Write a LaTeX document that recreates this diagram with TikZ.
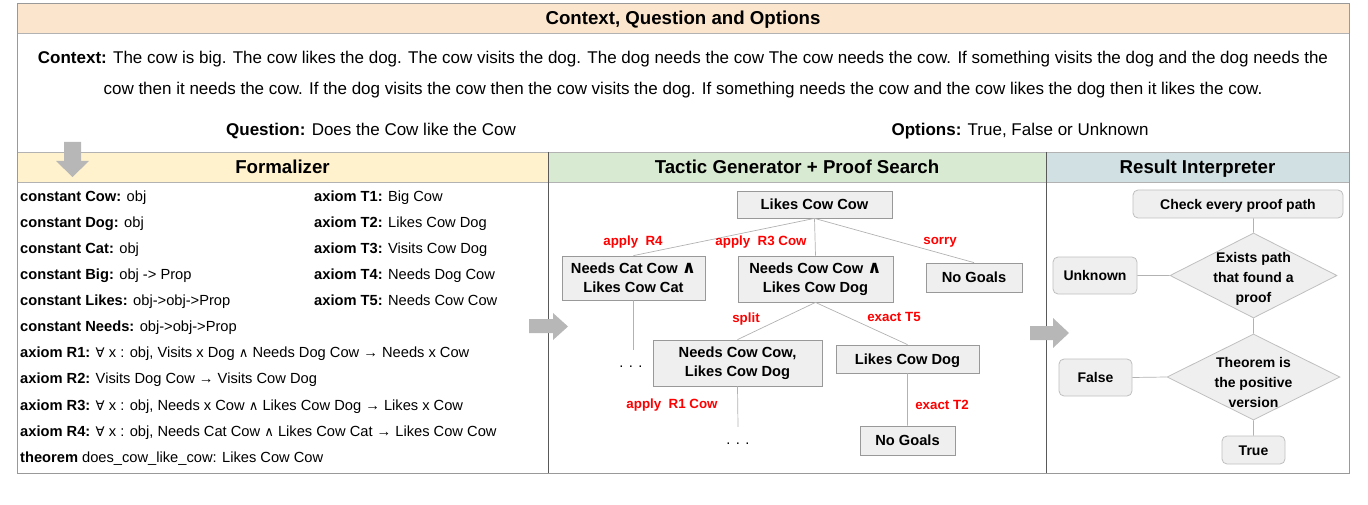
\documentclass[tikz,border=0pt]{standalone}
\usepackage{fontspec}
\setmainfont{Liberation Sans}
\newfontfamily\symfont[Scale=0.9]{DejaVu Sans}
\newfontfamily\bigsym[Scale=1.2]{DejaVu Sans}
\usetikzlibrary{shapes.geometric,positioning}

\definecolor{peach}{HTML}{FCE5CD}
\definecolor{formyellow}{HTML}{FFF2CC}
\definecolor{tacgreen}{HTML}{D9EAD3}
\definecolor{resblue}{HTML}{D0E0E3}
\definecolor{boxgray}{HTML}{EFEFEF}
\definecolor{arrowgray}{HTML}{B7B7B7}

\newcommand{\allx}{{\symfont ∀}}
\newcommand{\andx}{{\symfont ∧}}
\newcommand{\andbox}{{\bigsym ∧}}

\begin{document}
\begin{tikzpicture}[x=1pt,y=-1pt,
  hdr/.style={font=\fontsize{18.67}{22}\selectfont\bfseries, draw=black!30, line width=0.8pt, minimum height=30, inner sep=0, text height=13.4, text depth=0},
  body/.style={font=\fontsize{14.67}{18}\selectfont, inner sep=0, text height=10.5, text depth=0},
  ctxline/.style={font=\fontsize{17}{20}\selectfont, inner sep=0, text height=12.2, text depth=0},
  formline/.style={body, anchor=west},
  goal/.style={draw=black!40, fill=boxgray, line width=0.8pt, align=center, inner sep=0, font=\fontsize{14.67}{19.5}\selectfont\bfseries},
  oneline/.style={text height=10.5, text depth=0},
  tactic/.style={text=red, inner sep=0, font=\fontsize{13.33}{16}\selectfont\bfseries},
  link/.style={draw=black!30, line width=0.7pt},
  outcome/.style={goal, oneline, rounded corners=5, draw=black!25, font=\fontsize{14}{19}\selectfont\bfseries},
  decide/.style={diamond, draw=black!25, fill=boxgray, line width=0.8pt, inner sep=0},
  dectext/.style={align=center, inner sep=0, font=\fontsize{14}{20}\selectfont\bfseries}]
\tikzstyle{frame}=[draw=black!40, line width=0.9pt]
\tikzstyle{divider}=[draw=black!65, line width=0.9pt]
\tikzstyle{flowarrow}=[fill=arrowgray]
\tikzstyle{dots}=[inner sep=0, minimum height=34, font=\fontsize{14.67}{16}\selectfont]
\useasboundingbox (0,0) rectangle (1368,505);

% context, question and options
\node[hdr, fill=peach, minimum width=1332] (ctxhead) at (683,18) {Context, Question and Options};
\node[ctxline] (ctxA) at (683,57) {\textbf{Context:} The cow is big. The cow likes the dog. The cow visits the dog. The dog needs the cow The cow needs the cow. If something visits the dog and the dog needs the};
\node[ctxline] (ctxB) at (683,88) {cow then it needs the cow. If the dog visits the cow then the cow visits the dog. If something needs the cow and the cow likes the dog then it likes the cow.};
\node[ctxline] (question) at (371,129) {\textbf{Question:} Does the Cow like the Cow};
\node[ctxline] (options) at (1020,129) {\textbf{Options:} True, False or Unknown};

% panel headers
\node[hdr, fill=formyellow, minimum width=531] (formhead) at (282.5,167) {Formalizer};
\node[hdr, fill=tacgreen, minimum width=498] (tachead) at (797,167) {Tactic Generator + Proof Search};
\node[hdr, fill=resblue, minimum width=303] (reshead) at (1197.5,167) {Result Interpreter};
\draw[divider] (548,152) -- (548,473) (1046,152) -- (1046,473);
\draw[frame] (17,3) rectangle (1349,473);

% big arrows
\fill[flowarrow] (64,142) -- (81,142) -- (81,161) -- (89,161) -- (72.5,177) -- (56,161) -- (64,161) -- cycle;
\fill[flowarrow] (529,319) -- (553,319) -- (553,313) -- (568,326.5) -- (553,340) -- (553,333) -- (529,333) -- cycle;
\fill[flowarrow] (1030,326) -- (1053,326) -- (1053,318) -- (1069,333) -- (1053,348) -- (1053,340) -- (1030,340) -- cycle;

% formalizer
\foreach \txt [count=\i from 0] in {
  {\textbf{constant Cow:} obj},
  {\textbf{constant Dog:} obj},
  {\textbf{constant Cat:} obj},
  {\textbf{constant Big:} obj -> Prop},
  {\textbf{constant Likes:} obj->obj->Prop},
  {\textbf{constant Needs:} obj->obj->Prop},
  {\textbf{axiom R1:} \allx{} x : obj, Visits x Dog \andx{} Needs Dog Cow → Needs x Cow},
  {\textbf{axiom R2:} Visits Dog Cow → Visits Cow Dog},
  {\textbf{axiom R3:} \allx{} x : obj, Needs x Cow \andx{} Likes Cow Dog → Likes x Cow},
  {\textbf{axiom R4:} \allx{} x : obj, Needs Cat Cow \andx{} Likes Cow Cat → Likes Cow Cow},
  {\textbf{theorem} does\_cow\_like\_cow: Likes Cow Cow}}
  \node[formline] (c\i) at (20,{196+26.1*\i}) {\txt};
\foreach \txt [count=\i from 0] in {
  {\textbf{axiom T1:} Big Cow},
  {\textbf{axiom T2:} Likes Cow Dog},
  {\textbf{axiom T3:} Visits Cow Dog},
  {\textbf{axiom T4:} Needs Dog Cow},
  {\textbf{axiom T5:} Needs Cow Cow}}
  \node[formline] (t\i) at (314,{196+26.1*\i}) {\txt};

% proof search tree
\node[goal, oneline, minimum width=155, minimum height=27] (goal) at (814.5,204.5) {Likes Cow Cow};
\node[goal, minimum width=143, minimum height=44] (catgoal) at (633.5,278) {Needs Cat Cow \andbox\\Likes Cow Cat};
\node[goal, minimum width=155, minimum height=46] (cowgoal) at (815.5,279) {Needs Cow Cow \andbox\\Likes Cow Dog};
\node[goal, oneline, minimum width=96, minimum height=29] (done1) at (974,277.5) {No Goals};
\node[goal, minimum width=169, minimum height=46] (splitgoal) at (737.5,363) {Needs Cow Cow,\\Likes Cow Dog};
\node[goal, oneline, minimum width=143, minimum height=28] (likesgoal) at (907.5,359) {Likes Cow Dog};
\node[goal, oneline, minimum width=95, minimum height=29] (done2) at (907.5,440.5) {No Goals};
\node[dots] (moreA) at (631,367) {. . .};
\node[dots] (moreB) at (738,444) {. . .};
\draw[link] (goal.south) -- (catgoal.north)
  (goal.south) -- (cowgoal.north)
  (goal.south) -- (done1.north)
  (cowgoal.south) -- (splitgoal.north)
  (cowgoal.south) -- (likesgoal.north)
  (catgoal.south) -- (catgoal.south |- moreA.north)
  (splitgoal.south) -- (moreB.north)
  (likesgoal.south) -- (done2.north);
\node[tactic] (tacR4) at (633,242) {apply\ \ R4};
\node[tactic] (tacR3) at (761,242) {apply\ \ R3 Cow};
\node[tactic] (tacsorry) at (940,242) {sorry};
\node[tactic] (tacsplit) at (746,319) {split};
\node[tactic] (tacT5) at (894,317) {exact T5};
\node[tactic] (tacR1) at (672,405) {apply\ \ R1 Cow};
\node[tactic] (tacT2) at (942,405) {exact T2};

% result interpreter
\node[outcome, minimum width=210, minimum height=28] (check) at (1238,204) {Check every proof path};
\node[decide, minimum width=167, minimum height=85] (found) at (1253.5,275.5) {};
\node[dectext] (foundtxt) at (1253.5,279) {Exists path\\that found a\\proof};
\node[outcome, minimum width=84, minimum height=37] (resunknown) at (1095,275.5) {Unknown};
\node[decide, minimum width=173, minimum height=86] (positive) at (1253.5,377) {};
\node[dectext] (positivetxt) at (1253.5,382) {Theorem is\\the positive\\version};
\node[outcome, minimum width=73, minimum height=37] (resfalse) at (1095.5,377.5) {False};
\node[outcome, minimum width=63, minimum height=28] (restrue) at (1253.5,450) {True};
\draw[link] (found.north) -- (found.north |- check.south)
  (found.west) -- (resunknown.east)
  (found.south) -- (positive.north)
  (positive.west) -- (resfalse.east)
  (positive.south) -- (restrue.north);
\end{tikzpicture}
\end{document}
